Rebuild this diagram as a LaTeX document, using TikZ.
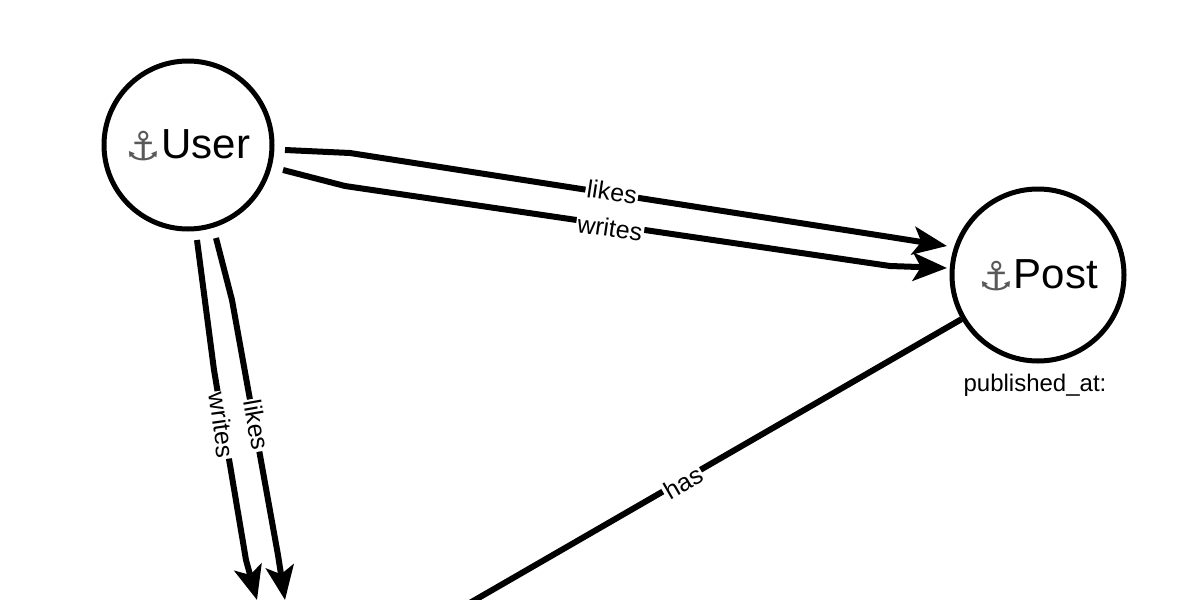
\documentclass[tikz,border=0pt]{standalone}
\usepackage{fontspec}
\setmainfont{Liberation Sans}
\newfontfamily\symf{DejaVu Sans}
\usetikzlibrary{arrows.meta}
\begin{document}
\begin{tikzpicture}[x=1pt,y=-1pt,
  ent/.style={circle,draw,line width=5pt,minimum size=168pt,inner sep=0pt,font=\fontsize{42}{46}\selectfont},
  anc/.style={},
  rel/.style={line width=6pt,-{Stealth[length=34pt,width=28pt,inset=8pt]}},
  plain/.style={line width=6pt},
  lab/.style={fill=white,inner sep=1.5pt,font=\fontsize{25}{28}\selectfont}]
\useasboundingbox (0,0) rectangle (1200,600);
\node[ent] (user) at (188,145) {\raisebox{-2pt}{\color{black!65}\symf\fontsize{40}{44}\selectfont ⚓}User};
\node[ent,minimum size=172pt] (post) at (1038,275) {\raisebox{-2pt}{\color{black!65}\symf\fontsize{40}{44}\selectfont ⚓}Post};
\node[font=\fontsize{24}{28}\selectfont] (pa) at (1035,385) {published\_at:};
\coordinate (d1) at (257,600);
\coordinate (d2) at (285,600);
\coordinate (h1) at (468,604);
\draw[rel] (285,150) -- (350,153) -- (890,237) -- (947,246);
\node[lab,rotate=-8.5] (l1) at (612,192) {likes};
\draw[rel] (283,170) -- (345,186) -- (890,266) -- (947,268);
\node[lab,rotate=-8.5] (l2) at (610,228) {writes};
\draw[rel] (197,240) -- (214,370) -- (246,560) -- (d1);
\node[lab,rotate=-82] (l3) at (222,425) {writes};
\draw[rel] (216,238) -- (232,300) -- (278,555) -- (d2);
\node[lab,rotate=-80] (l4) at (257,425) {likes};
\draw[plain] (post) -- (h1);
\node[lab,rotate=30] (l5) at (683,483) {has};
\end{tikzpicture}
\end{document}
